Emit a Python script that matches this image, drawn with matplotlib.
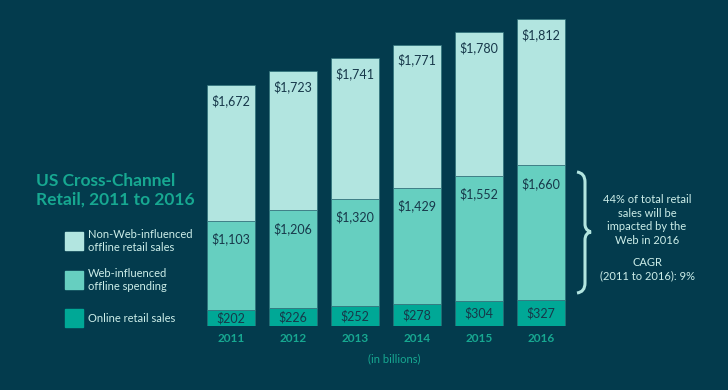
import numpy as np
import matplotlib
matplotlib.use("Agg")
import matplotlib.pyplot as plt
from matplotlib.path import Path
from matplotlib.patches import PathPatch, Rectangle

years = ["2011", "2012", "2013", "2014", "2015", "2016"]
online = [202, 226, 252, 278, 304, 327]
web_influenced = [1103, 1206, 1320, 1429, 1552, 1660]
non_web = [1672, 1723, 1741, 1771, 1780, 1812]

legend_labels = ["Non-Web-influenced\noffline retail sales",
                 "Web-influenced\noffline spending",
                 "Online retail sales"]

BG = "#033b4d"
C_TOP = "#b2e5e0"
C_MID = "#66cfc0"
C_BOT = "#00a896"
C_EDGE = "#2d6f78"
TEAL_TXT = "#17a891"
DARK_TXT = "#17384a"
LIGHT_TXT = "#cdeee9"

plt.rcParams['font.family'] = ['Lato', 'DejaVu Sans']

W, H = 728, 390
fig = plt.figure(figsize=(W / 100, H / 100), dpi=100, facecolor=BG)


def px(x, y):
    return x / W, 1 - y / H


# axes placed in pixel space
ax_l, ax_r, ax_b, ax_t = 200, 572, 326, 10
ax = fig.add_axes([ax_l / W, 1 - ax_b / H, (ax_r - ax_l) / W, (ax_b - ax_t) / H])
ax.set_facecolor(BG)
ax.axis("off")

x = np.arange(len(years))
w = 0.76
b1 = np.array(online)
b2 = b1 + np.array(web_influenced)
ax.bar(x, online, w, color=C_BOT, edgecolor=C_EDGE, linewidth=0.5)
ax.bar(x, web_influenced, w, bottom=b1, color=C_MID, edgecolor=C_EDGE, linewidth=0.5)
ax.bar(x, non_web, w, bottom=b2, color=C_TOP, edgecolor=C_EDGE, linewidth=0.5)
ax.set_xlim(-0.5, 5.5)
ax.set_ylim(0, 3910)

for i in range(len(years)):
    ax.annotate("${:,}".format(online[i]), (x[i], online[i] / 2), ha="center", va="center",
                fontsize=9, color=DARK_TXT)
    ax.annotate("${:,}".format(web_influenced[i]), (x[i], b2[i]), xytext=(0, -13),
                textcoords="offset points", ha="center", va="center", fontsize=9, color=DARK_TXT)
    ax.annotate("${:,}".format(non_web[i]), (x[i], b2[i] + non_web[i]), xytext=(0, -11),
                textcoords="offset points", ha="center", va="center", fontsize=9, color=DARK_TXT)
    ax.annotate(years[i], (x[i], 0), xytext=(0, -9), textcoords="offset points",
                ha="center", va="center", fontsize=8.5, fontweight="bold", color=TEAL_TXT)

fig.text(*px(394, 359), "(in billions)", ha="center", va="center", fontsize=8, color=TEAL_TXT)

# title
fig.text(*px(36, 190), "US Cross-Channel\nRetail, 2011 to 2016", ha="left", va="center",
         fontsize=12.5, fontweight="bold", color=TEAL_TXT, linespacing=1.2)

# legend
leg_y = [241, 280, 318]
leg_cols = [C_TOP, C_MID, C_BOT]
for yy, col, lab in zip(leg_y, leg_cols, legend_labels):
    fx, fy = px(65, yy + 9)
    fig.patches.append(Rectangle((fx, fy), 18 / W, 18 / H, transform=fig.transFigure,
                                 color=col, zorder=3))
    fig.text(*px(88, yy), lab, ha="left", va="center", fontsize=8, color=LIGHT_TXT,
             linespacing=1.3)

# brace
verts = [px(577, 172), px(585, 173), px(585, 182),
         px(585, 224),
         px(585, 231), px(591, 232), px(591, 232),
         px(585, 233), px(585, 240),
         px(585, 283),
         px(585, 292), px(577, 293)]
codes = [Path.MOVETO, Path.CURVE3, Path.CURVE3,
         Path.LINETO,
         Path.CURVE4, Path.CURVE4, Path.CURVE4,
         Path.CURVE3, Path.CURVE3,
         Path.LINETO,
         Path.CURVE3, Path.CURVE3]
fig.patches.append(PathPatch(Path(verts, codes), transform=fig.transFigure, fill=False,
                             edgecolor=C_TOP, linewidth=2.2))

fig.text(*px(647, 220), "44% of total retail\nsales will be\nimpacted by the\nWeb in 2016",
         ha="center", va="center", fontsize=8, color=LIGHT_TXT, linespacing=1.3)
fig.text(*px(647, 269), "CAGR\n(2011 to 2016): 9%", ha="center", va="center",
         fontsize=8, color=LIGHT_TXT, linespacing=1.3)

fig.savefig("out.png", dpi=100, facecolor=BG)
